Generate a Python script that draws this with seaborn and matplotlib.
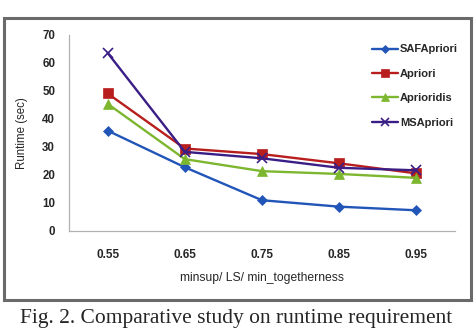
import matplotlib
matplotlib.use("Agg")
import matplotlib.pyplot as plt
from matplotlib.patches import Rectangle
import seaborn as sns
import pandas as pd

categories = ["0.55", "0.65", "0.75", "0.85", "0.95"]
saf_apriori = [35.8, 22.7, 10.9, 8.6, 7.3]
apriori = [49.1, 29.4, 27.4, 24.1, 20.5]
aprioridis = [45.4, 25.6, 21.3, 20.3, 18.9]
ms_apriori = [63.6, 28.2, 25.9, 22.5, 21.6]
y_ticks = [0, 10, 20, 30, 40, 50, 60, 70]

series = {
    "SAFApriori": saf_apriori,
    "Apriori": apriori,
    "Aprioridis": aprioridis,
    "MSApriori": ms_apriori,
}
styles = {
    "SAFApriori": dict(color="#2155B8", marker="D", markersize=5.5),
    "Apriori": dict(color="#B81E1E", marker="s", markersize=7.5),
    "Aprioridis": dict(color="#7DB62F", marker="^", markersize=7),
    "MSApriori": dict(color="#3A1E86", marker="x", markersize=7, markeredgewidth=1.2),
}

df = pd.DataFrame(
    [(name, cat, v) for name, vals in series.items() for cat, v in zip(categories, vals)],
    columns=["algorithm", "minsup", "runtime"],
)

sns.set_style("white")
plt.rcParams["font.family"] = ["Liberation Sans", "DejaVu Sans"]

fig = plt.figure(figsize=(4.74, 3.28), dpi=100)
ax = fig.add_axes([0.1456, 0.2966, 0.8143, 0.5967])

for name in series:
    st = styles[name]
    sub = df[df["algorithm"] == name]
    sns.lineplot(
        data=sub, x="minsup", y="runtime", ax=ax, label=name,
        color=st["color"], marker=st["marker"], markersize=st["markersize"],
        markeredgewidth=st.get("markeredgewidth", 0.5),
        markeredgecolor=st["color"], linewidth=1.7, sort=False,
    )

ax.set_xlim(-0.5, len(categories) - 0.5)
ax.set_ylim(0, 70)
ax.set_yticks(y_ticks)
ax.set_yticklabels([str(t) for t in y_ticks], fontweight="bold", fontsize=8.3)
ax.set_xticks(range(len(categories)))
ax.set_xticklabels(categories, fontweight="bold", fontsize=8.5)
ax.tick_params(axis="x", length=0, pad=13)
ax.set_xticks([i - 0.5 for i in range(len(categories) + 1)], minor=True)
ax.tick_params(axis="x", which="minor", length=4, color="#a0a0a0", width=0.8, direction="out")
ax.tick_params(axis="y", length=4, color="#a0a0a0", width=0.8, direction="out", pad=6)

for side in ["top", "right"]:
    ax.spines[side].set_visible(False)
for side in ["left", "bottom"]:
    ax.spines[side].set_color("#b0b0b0")
    ax.spines[side].set_linewidth(0.9)

ax.set_xlabel("minsup/ LS/ min_togetherness", fontsize=8.7, labelpad=8)
ax.set_ylabel("Runtime (sec)", fontsize=8.3, labelpad=10)

leg = ax.legend(
    loc="upper left", bbox_to_anchor=(0.776, 0.878), bbox_transform=fig.transFigure,
    frameon=False, prop={"weight": "bold", "size": 8},
    handlelength=2.3, handletextpad=0.2, labelspacing=1.3, borderaxespad=0,
    markerscale=0.8,
)

# outer frame around the chart
fig.patches.append(Rectangle((4 / 474, 1 - 300 / 328), 467 / 474, 282 / 328,
                             transform=fig.transFigure, fill=False,
                             edgecolor="#6a6a6a", linewidth=2.2))

fig.text(20 / 474, 1 - 323 / 328, "Fig. 2. Comparative study on runtime requirement",
         family=["Liberation Serif", "DejaVu Serif"], fontsize=15.5,
         va="baseline", ha="left")

fig.savefig("out.png", dpi=100)
